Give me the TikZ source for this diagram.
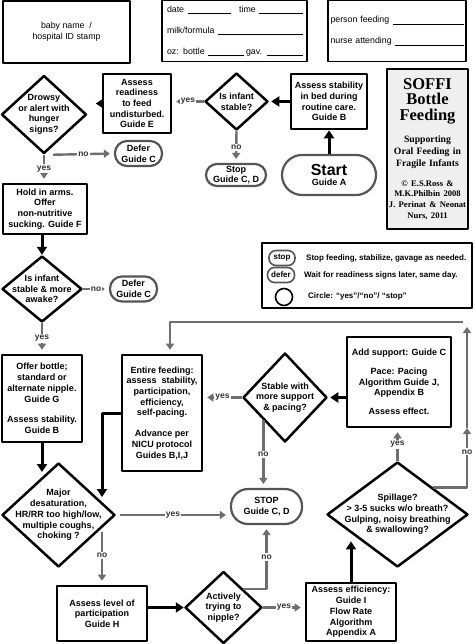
\documentclass[tikz,border=0pt]{standalone}
\usepackage{fontspec}
\setmainfont{Liberation Sans}
\newfontfamily\soffiserif{Liberation Serif}
\usetikzlibrary{shapes.geometric,arrows.meta}
\definecolor{arrgray}{HTML}{6E6E6E}
\definecolor{termgray}{HTML}{555555}
\definecolor{soffifill}{HTML}{EFEFEF}
\newcommand\formline{\leaders\hbox to 0.5pt{\rule[-1.8pt]{0.5pt}{0.8pt}}\hfill\hbox{}}

\tikzset{
  box/.style={draw, line width=2.6pt, inner sep=0pt, align=center},
  form/.style={draw, line width=1.4pt, inner sep=0pt, font=\mdseries\fontsize{8.8}{11}\selectfont},
  term/.style={draw=termgray, line width=2.2pt, inner sep=0pt, align=center},
  dia/.style={diamond, draw, line width=2.5pt, inner sep=0pt},
  dtext/.style={align=center, inner sep=0pt},
  blk/.style={line width=3pt, -{Triangle[length=8pt,width=10pt]}},
  gry/.style={draw=arrgray, line width=2.4pt, -{Triangle[length=6pt,width=8pt]}, shorten >=4pt},
  ans/.style={fill=white, inner sep=1.2pt, text=black!80, font=\bfseries\fontsize{8.5}{9}\selectfont},
  legtext/.style={anchor=west, inner sep=0pt, font=\bfseries\fontsize{8}{9}\selectfont},
}

\begin{document}
\begin{tikzpicture}[x=1pt, y=-1pt, font=\bfseries\fontsize{9}{10.7}\selectfont, line join=round]
\useasboundingbox (0,0) rectangle (474,644);

% forms on top
\node[form, minimum width=127pt, minimum height=62pt, align=center] (stamp) at (66.5,32) {baby name\ \ /\\hospital ID stamp};
\node[form, minimum width=145pt, minimum height=61pt, text width=135pt, align=left, font=\mdseries\fontsize{8.8}{21}\selectfont] (intake) at (234.5,31) {date \formline\ \ \ time \formline\\milk/formula \formline\\oz: bottle \formline\ gav. \formline};
\node[form, minimum width=138pt, minimum height=61pt, text width=133pt, align=left, font=\mdseries\fontsize{8.8}{21}\selectfont] (staff) at (397,31) {person feeding \formline\\nurse attending \formline};

% first row
\node[dia, minimum width=85pt, minimum height=78pt, label={[dtext]center:{Drowsy\\or alert with\\hunger\\signs?}}] (drowsy) at (44,114.5) {};
\node[box, minimum width=68pt, minimum height=59pt] (ready) at (137,103.5) {Assess\\readiness\\to feed\\undisturbed.\\Guide E};
\node[dia, minimum width=63pt, minimum height=57pt, label={[dtext]center:{Is infant\\stable?}}] (calm) at (236.5,101.5) {};
\node[term, minimum width=60pt, minimum height=22pt, rounded corners=11pt] (stop1) at (236,175) {Stop\\Guide C, D};
\node[box, minimum width=76pt, minimum height=55pt] (bedside) at (329,101.5) {Assess stability\\in bed during\\routine care.\\Guide B};
\node[term, minimum width=94pt, minimum height=40pt, rounded corners=20pt] (start) at (329,175) {{\fontsize{16}{17}\selectfont Start}\\Guide A};

\node[draw, line width=2.4pt, fill=soffifill, minimum width=81pt, minimum height=160pt, inner sep=0pt, text width=80pt, align=center, font=\soffiserif\bfseries] (soffi) at (427.5,149) {\fontsize{16.5}{15.5}\selectfont SOFFI\\Bottle\\Feeding\par\vspace{10pt}\fontsize{9.7}{12}\selectfont Supporting\\Oral Feeding in\\Fragile Infants\par\vspace{9pt}\fontsize{8.6}{10.7}\selectfont © E.S.Ross \&\\M.K.Philbin 2008\\J. Perinat \& Neonat\\Nurs, 2011\par};

% legend
\node[box, line width=2.4pt, minimum width=210pt, minimum height=65pt] (legend) at (367,275.5) {};
\node[term, minimum width=26pt, minimum height=15pt, rounded corners=7pt, line width=1.6pt, font=\bfseries\fontsize{8}{9}\selectfont] (lstop) at (282,258) {stop};
\node[term, minimum width=27pt, minimum height=15pt, rounded corners=7pt, line width=1.6pt, font=\bfseries\fontsize{8}{9}\selectfont] (ldefer) at (281,275) {defer};
\node[circle, draw, line width=1.6pt, minimum size=17pt, inner sep=0pt] (lcircle) at (284,297) {};
\node[legtext] (lstoptext) at (306,258) {Stop feeding, stabilize, gavage as needed.};
\node[legtext] (ldefertext) at (304,275) {Wait for readiness signs later, same day.};
\node[legtext] (lcircletext) at (308,296) {Circle: “yes”/“no”/ “stop”};

% left column
\node[term, minimum width=47pt, minimum height=25pt, rounded corners=12pt] (defer1) at (138.5,153.5) {Defer\\Guide C};
\node[box, minimum width=84pt, minimum height=50pt] (hold) at (45,209) {Hold in arms.\\Offer\\non-nutritive\\sucking. Guide F};
\node[dia, minimum width=80pt, minimum height=66pt, label={[dtext]center:{Is infant\\stable \& more\\awake?}}] (awake) at (42,289) {};
\node[term, minimum width=47pt, minimum height=25pt, rounded corners=12pt] (defer2) at (133.5,289) {Defer\\Guide C};
\node[box, minimum width=80pt, minimum height=87pt] (offer) at (42,398.5) {Offer bottle;\\standard or\\alternate nipple.\\Guide G\\[10pt]Assess stability.\\Guide B};
\node[dia, minimum width=113pt, minimum height=104pt, label={[dtext]center:{Major\\desaturation,\\HR/RR too high/low,\\multiple coughs,\\choking ?}}] (major) at (58.5,515) {};
\node[box, minimum width=90pt, minimum height=55pt] (level) at (102,613.5) {Assess level of\\participation\\Guide H};

% middle and right
\node[box, minimum width=80pt, minimum height=116pt] (entire) at (162,413) {Entire feeding:\\assess\ \ stability,\\participation,\\efficiency,\\self-pacing.\\[10pt]Advance per\\NICU protocol\\Guides B,I,J};
\node[dia, minimum width=84pt, minimum height=89pt, label={[dtext]center:{Stable with\\more support\\\& pacing?}}] (stable2) at (285,397.5) {};
\node[box, minimum width=104pt, minimum height=90pt] (support) at (399,382) {Add support: Guide C\\[8pt]Pace: Pacing\\Algorithm Guide J,\\Appendix B\\[8pt]Assess effect.};
\node[term, minimum width=71pt, minimum height=35pt, rounded corners=17pt] (stop2) at (266.5,506.5) {STOP\\Guide C, D};
\node[dia, minimum width=141pt, minimum height=105pt, label={[dtext]center:{Spillage?\\> 3-5 sucks w/o breath?\\Gulping, noisy breathing\\\& swallowing?}}] (spill) at (397.5,514.5) {};
\node[dia, minimum width=77pt, minimum height=72pt, label={[dtext]center:{Actively\\trying to\\nipple?}}] (active) at (223.5,607.5) {};
\node[box, minimum width=90pt, minimum height=58pt] (effic) at (351,612) {Assess efficiency:\\Guide I\\Flow Rate\\Algorithm\\Appendix A};

\coordinate (loopmid) at (467,428);
\coordinate (looptop) at (467,327);
\coordinate (loopback) at (463,322);

% connectors
\draw[blk] (start.north) -- (bedside.south);
\draw[blk, shorten >=2pt] (bedside.west) -- (calm.east);
\draw[gry] (calm.west) -- (calm.west -| ready.east) node[ans, midway] (y1) {yes};
\draw[gry] (calm.south) -- (stop1.north) node[ans, midway] (n1) {no};
\draw[blk, shorten >=8pt] (ready.west) -- (ready.west -| drowsy.east);
\draw[gry] ([xshift=9pt]drowsy.south) -- (defer1.west) node[ans, midway] (n2) {no};
\draw[gry] (drowsy.south) -- (drowsy.south |- hold.north) node[ans, midway] (y2) {yes};
\draw[blk] (hold.south -| awake.north) -- (awake.north);
\draw[gry] (awake.east) -- (defer2.west) node[ans, midway] (n3) {no};
\draw[gry] (awake.south) -- (offer.north) node[ans, midway] (y3) {yes};
\draw[blk, shorten >=43pt] (offer.south) -- (offer.south |- major.east);
\draw[blk, shorten >=18pt] (entire.west) -| (level.north |- major.east);
\draw[gry, shorten <=4pt] (major.east) -- (major.east -| stop2.west) node[ans, midway] (y4) {yes};
\draw[gry, shorten <=17pt] (level.north |- major.east) -- (level.north) node[ans, pos=0.58] (n4) {no};
\draw[blk] (level.east |- active.west) -- (active.west);
\draw[gry] (active.east) -- (active.east -| effic.west) node[ans, midway] (y5) {yes};
\draw[gry] (active.north east) -| (stop2.south) node[ans, pos=0.75] (n5) {no};
\draw[blk] (effic.north) -- (effic.north |- spill.south west);
\draw[gry] (spill.north) -- (spill.north |- support.south) node[ans, midway] (y6) {yes};
\draw[blk, shorten >=2pt] (support.west |- stable2.east) -- (stable2.east);
\draw[gry] (stable2.west) -- (stable2.west -| entire.east) node[ans, midway] (y7) {yes};
\draw[gry] (stable2.south west) -- (stable2.south west |- stop2.north) node[ans, midway] (n6) {no};
\draw[gry, shorten >=0pt] (spill.north east) -| (loopmid) node[ans, pos=0.8] (n7) {no};
\draw[gry, shorten >=0pt] (loopmid) -- (looptop);
\draw[gry] (loopback) -| ([xshift=8pt]entire.north);
\end{tikzpicture}
\end{document}
